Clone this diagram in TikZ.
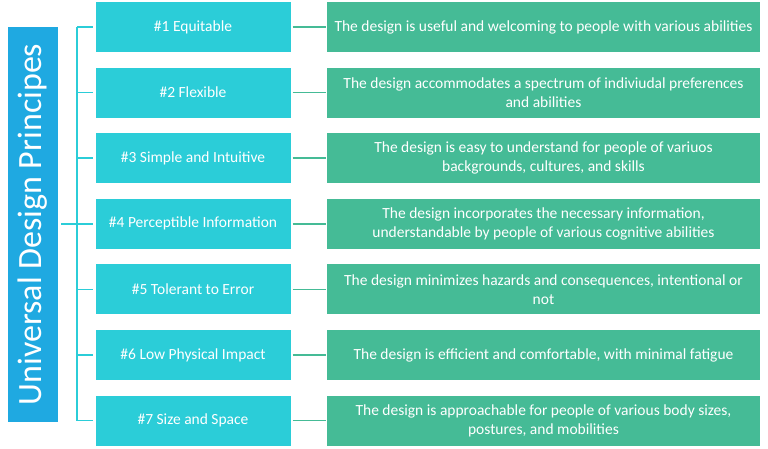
\documentclass[tikz,border=0pt]{standalone}
\usepackage{fontspec}
\setmainfont{Carlito}
\usetikzlibrary{positioning}
\definecolor{titleblue}{HTML}{1FA9E1}
\definecolor{pcyan}{HTML}{2BCDD8}
\definecolor{dgreen}{HTML}{45BB96}
\tikzset{
  font=\fontsize{15.5}{19}\selectfont,
  % principle box
  princ/.style={fill=pcyan, text=white, minimum width=195pt, minimum height=50pt, inner sep=0pt},
  % description box
  desc/.style={fill=dgreen, text=white, minimum width=433pt, minimum height=50pt,
    inner sep=0pt, align=center},
  % lines
  bline/.style={draw=pcyan, line width=1.5pt},
  gline/.style={draw=dgreen, line width=1.5pt},
}
\begin{document}
\begin{tikzpicture}[x=1pt, y=-1pt]
  \useasboundingbox (0,0) rectangle (768,449);

  \node[fill=titleblue, minimum width=50pt, minimum height=395pt, inner sep=0pt]
    (title) at (33,224.5) {};
  \node[rotate=90, text=white, font=\fontsize{34}{34}\selectfont] at (title) {Universal Design Principes};

  \foreach \i/\p/\d [count=\k] in {
    1/{\#1 Equitable}/{The design is useful and welcoming to people with various abilities},
    2/{\#2 Flexible}/{The design accommodates a spectrum of indiviudal preferences\\and abilities},
    3/{\#3 Simple and Intuitive}/{The design is easy to understand for people of variuos\\backgrounds, cultures, and skills},
    4/{\#4 Perceptible Information}/{The design incorporates the necessary information,\\understandable by people of various cognitive abilities},
    5/{\#5 Tolerant to Error}/{The design minimizes hazards and consequences, intentional or\\not},
    6/{\#6 Low Physical Impact}/{The design is efficient and comfortable, with minimal fatigue},
    7/{\#7 Size and Space}/{The design is approachable for people of various body sizes,\\postures, and mobilities}} {
    \node[princ] (p\i) at (193,{27+65.6*(\i-1)}) {\p};
    \node[desc] (d\i) at (543.5,{27+65.6*(\i-1)}) {\d};
    \draw[gline] (p\i.east) ++(2,0) -- ([xshift=-1pt]d\i.west);
    \coordinate (b\i) at (77,{27+65.6*(\i-1)});
    \draw[bline] (b\i) -- ([xshift=-2pt]p\i.west);
  }
  \draw[bline] (b1) -- (b7);
  \draw[bline] ([xshift=3pt]title.east |- b4) -- (b4);
\end{tikzpicture}
\end{document}
